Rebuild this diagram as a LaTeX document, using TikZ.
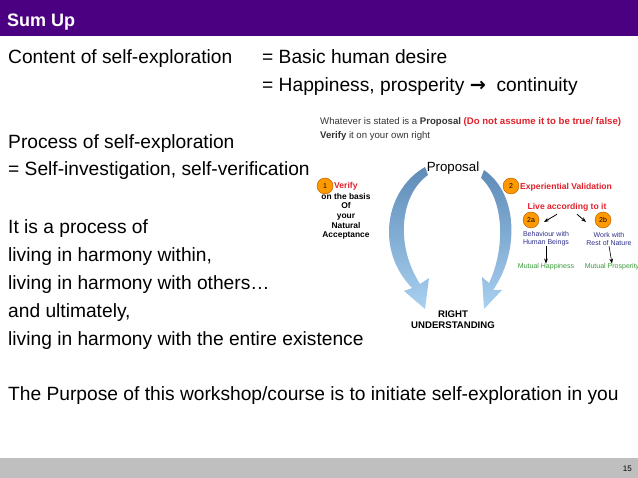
\documentclass[tikz,border=0pt]{standalone}
\usepackage{fontspec}
\usetikzlibrary{arrows.meta,calc}
\setmainfont{Liberation Sans}
\newfontfamily\djv{DejaVu Sans}
\begin{document}
\begin{tikzpicture}[x=1pt,y=-1pt,
  body/.style={anchor=base west,font=\fontsize{19.2}{22}\selectfont,inner sep=0},
  sm/.style={font=\fontsize{8.4}{9.6}\selectfont\bfseries,align=center,inner sep=0},
  tiny/.style={font=\fontsize{7}{8.4}\selectfont,align=center,inner sep=0},
  num/.style={circle,fill=orange!80!yellow,draw=orange!70!black,inner sep=0,minimum size=16pt,font=\fontsize{7}{7}\selectfont},
  arr/.style={-{Stealth[length=5pt]},line width=0.8pt}]
\definecolor{hdr}{HTML}{4B0082}
\definecolor{rd}{HTML}{E0202A}
\definecolor{bl}{HTML}{2E2E8A}
\definecolor{gr}{HTML}{3A9A3A}
\definecolor{atop}{HTML}{5E8CB8}
\definecolor{abot}{HTML}{A8D0F0}
\useasboundingbox (0,0) rectangle (638,478);
\fill[hdr] (0,0) rectangle (638,36);
\node[anchor=base west,text=white,font=\fontsize{18}{20}\selectfont\bfseries,inner sep=0] (t) at (7,27) {Sum Up};
\fill[gray!50] (0,458) rectangle (638,478);
\node[anchor=base east,font=\fontsize{8}{9}\selectfont,inner sep=0] (pg) at (632,472) {15};
\node[body] (l1) at (8,64) {Content of self-exploration};
\node[body] (l1b) at (262,64) {= Basic human desire};
\node[body] (l2) at (262,92) {= Happiness, prosperity {\djv\bfseries →}\ \ continuity};
\node[body] (l3) at (8,149) {Process of self-exploration};
\node[body] (l4) at (8,176) {= Self-investigation, self-verification};
\node[body] (l5) at (8,234) {It is a process of};
\node[body] (l6) at (8,262) {living in harmony within,};
\node[body] (l7) at (8,290) {living in harmony with others…};
\node[body] (l8) at (8,318) {and ultimately,};
\node[body] (l9) at (8,346) {living in harmony with the entire existence};
\node[body] (l10) at (8,401) {The Purpose of this workshop/course is to initiate self-exploration in you};
% diagram
\node[anchor=base west,inner sep=0,font=\fontsize{9.6}{11}\selectfont,text=black!80] (w1) at (320,125) {Whatever is stated is a \textbf{Proposal} {\color{rd}\textbf{(Do not assume it to be true/ false)}}};
\node[anchor=base west,inner sep=0,font=\fontsize{9.6}{11}\selectfont,text=black!80] (w2) at (320,139) {\textbf{Verify} it on your own right};
\node[font=\fontsize{13.3}{15}\selectfont,inner sep=0] (prop) at (453,168) {Proposal};
\node[sm,font=\fontsize{9.6}{11}\selectfont\bfseries] (ru) at (453,320) {RIGHT\\UNDERSTANDING};
\shade[top color=atop,bottom color=abot] (425,167) .. controls (385,190) and (375,250) .. (412,288) -- (404,291) -- (425,309) -- (429,278) -- (420,284) .. controls (395,245) and (400,195) .. (428,175) -- cycle;
\shade[top color=atop,bottom color=abot] (484,170) .. controls (520,195) and (518,255) .. (493,290) -- (502,290) -- (484,309) -- (482,277) -- (489,283) .. controls (505,250) and (505,200) .. (481,178) -- cycle;
\node[num] (n1) at (325,186) {1};
\node[anchor=west,inner sep=0,font=\fontsize{8.6}{10}\selectfont\bfseries,text=rd] (v) at (334,186) {Verify};
\node[sm,anchor=north] (nb) at (346,193) {on the basis\\Of\\your\\Natural\\Acceptance};
\node[num] (n2) at (511,186) {2};
\node[anchor=west,inner sep=0,font=\fontsize{8.6}{10}\selectfont\bfseries,text=rd] (ev) at (520,187) {Experiential Validation};
\node[inner sep=0,font=\fontsize{8.6}{10}\selectfont\bfseries,text=rd] (la) at (567,207) {Live according to it};
\node[num] (n2a) at (531,220) {2a};
\node[num] (n2b) at (603,220) {2b};
\coordinate (la1) at (544,222);
\coordinate (la2) at (586,222);
\draw[arr] ($(la.south)+(-10,3)$) -- (la1);
\draw[arr] ($(la.south)+(10,3)$) -- (la2);
\node[tiny,text=bl,anchor=north] (bh) at (546,231) {Behaviour with\\Human Beings};
\node[tiny,text=bl,anchor=north] (wn) at (609,232) {Work with\\Rest of Nature};
\node[tiny,text=gr] (mh) at (546,267) {Mutual Happiness};
\node[tiny,text=gr] (mp) at (612,267) {Mutual Prosperity};
\draw[arr,line width=0.6pt] (bh.south) -- (mh.north);
\draw[arr,line width=0.6pt] (wn.south) -- (mp.north);
\end{tikzpicture}
\end{document}
